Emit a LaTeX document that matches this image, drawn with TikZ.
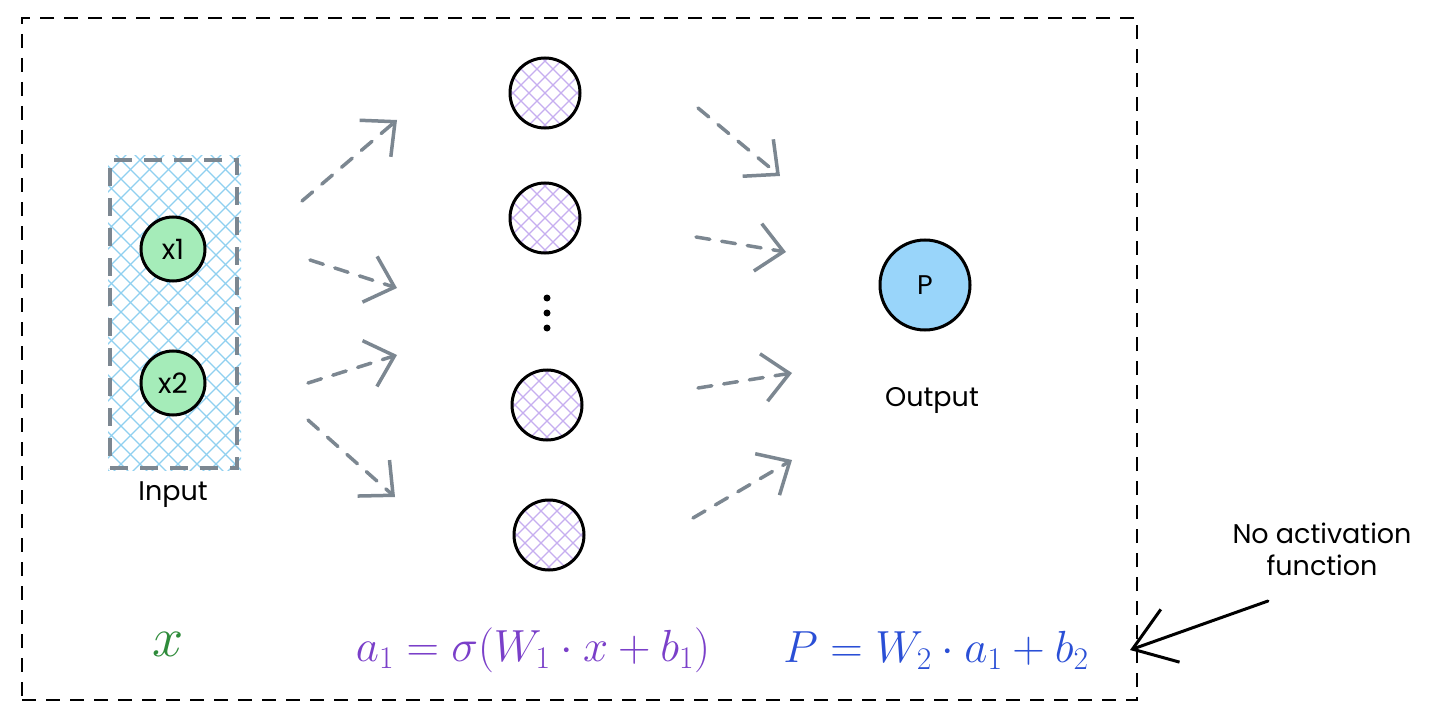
\RequirePackage{fix-cm}
\documentclass[tikz,border=0pt]{standalone}
\usepackage{fontspec}
\setmainfont{Poppins}
\usetikzlibrary{arrows.meta}
\definecolor{arr}{HTML}{7C8791}
\definecolor{hatchblue}{HTML}{8FD0F0}
\definecolor{hatchpurp}{HTML}{C6AEF0}
\definecolor{xgreen}{HTML}{A5ECB9}
\definecolor{pblue}{HTML}{99D5FA}
\definecolor{eqgreen}{HTML}{2E8B3A}
\definecolor{eqpurp}{HTML}{7A3FC9}
\definecolor{eqblue}{HTML}{2A4FD6}
\tikzset{
  flow/.style={draw=arr,line width=3.5pt,dash pattern=on 14pt off 12pt,line cap=round,
    -{Straight Barb[length=26pt,width=48pt,line width=3.5pt]}},
  innode/.style={circle,draw=black,line width=3pt,fill=xgreen,minimum size=64pt,inner sep=0pt,font=\fontsize{28}{32}\selectfont},
  hid/.style={circle,draw=black,line width=3pt,minimum size=70pt,inner sep=0pt},
  lbl/.style={font=\fontsize{27}{32}\selectfont},
}
\begin{document}
\begin{tikzpicture}[x=1pt,y=-1pt]
\useasboundingbox (0,0) rectangle (1456,722);
\fill[white] (0,0) rectangle (1456,722);
% outer frame
\node[draw=black,line width=2pt,dash pattern=on 14pt off 10pt,minimum width=1115pt,minimum height=682pt,inner sep=0pt] (frame) at (579.5,359) {};
% input box hatch
\begin{scope}
\clip (108,156) rectangle (241,470);
\foreach \k in {-400,-381,...,600}{
  \draw[hatchblue,line width=1.3pt] (\k,152) -- (\k+320,472);
  \draw[hatchblue,line width=1.3pt] (\k+320,152) -- (\k,472);
}
\end{scope}
\node[draw=arr,line width=3.5pt,dash pattern=on 18pt off 12pt,minimum width=127pt,minimum height=308pt,inner sep=0pt] (inbox) at (173.5,314) {};
\node[innode] (x1) at (173,249) {x1};
\node[innode] (x2) at (173,383) {x2};
\node[lbl] (inlbl) at (173,495) {Input};
% hidden
\foreach \n/\x/\y in {h1/545/93,h2/545/218,h3/547/405,h4/549/535}{
  \begin{scope}
  \clip (\x,\y) circle (35);
  \foreach \k in {-80,-64,...,80}{
    \draw[hatchpurp,line width=1.1pt] (\x+\k-40,\y-40) -- (\x+\k+40,\y+40);
    \draw[hatchpurp,line width=1.1pt] (\x+\k+40,\y-40) -- (\x+\k-40,\y+40);
  }
  \end{scope}
  \node[hid] (\n) at (\x,\y) {};
}
\foreach \yy in {298,313,328}{\fill (547,\yy) circle (3.5);}
% output
\node[circle,draw=black,line width=3pt,fill=pblue,minimum size=90pt,inner sep=0pt,lbl] (P) at (925,285) {P};
\node[lbl] (outlbl) at (932,400) {Output};
% arrows
\coordinate (a1s) at (302,201); \coordinate (a1e) at (397,120);
\coordinate (a2s) at (310,260); \coordinate (a2e) at (397,288);
\coordinate (a3s) at (308,383); \coordinate (a3e) at (397,355);
\coordinate (a4s) at (308,420); \coordinate (a4e) at (395,497);
\coordinate (b1s) at (698,108); \coordinate (b1e) at (780,176);
\coordinate (b2s) at (696,237); \coordinate (b2e) at (786,252);
\coordinate (b3s) at (698,388); \coordinate (b3e) at (792,373);
\coordinate (b4s) at (693,518); \coordinate (b4e) at (792,460);
\foreach \a in {a1,a2,a3,a4,b1,b2,b3,b4}{\draw[flow] (\a s) -- (\a e);}
% equations
\node[text=eqgreen,font=\fontsize{56}{62}\selectfont] (ex) at (168,644) {$x$};
\node[text=eqpurp,font=\fontsize{45}{50}\selectfont] (ea) at (533,650) {$a_1=\sigma(W_1\cdot x+b_1)$};
\node[text=eqblue,font=\fontsize{45}{50}\selectfont] (ep) at (936,650) {$P=W_2\cdot a_1+b_2$};
% note
\node[lbl,align=center] (note) at (1322,549) {No activation\\function};
\coordinate (tip) at (1130,650);
\coordinate (tail) at (1268,601);
\draw[line width=3pt,line cap=round,-{Straight Barb[length=40pt,width=56pt,line width=3pt]}] (tail) -- (tip);
\end{tikzpicture}
\end{document}
